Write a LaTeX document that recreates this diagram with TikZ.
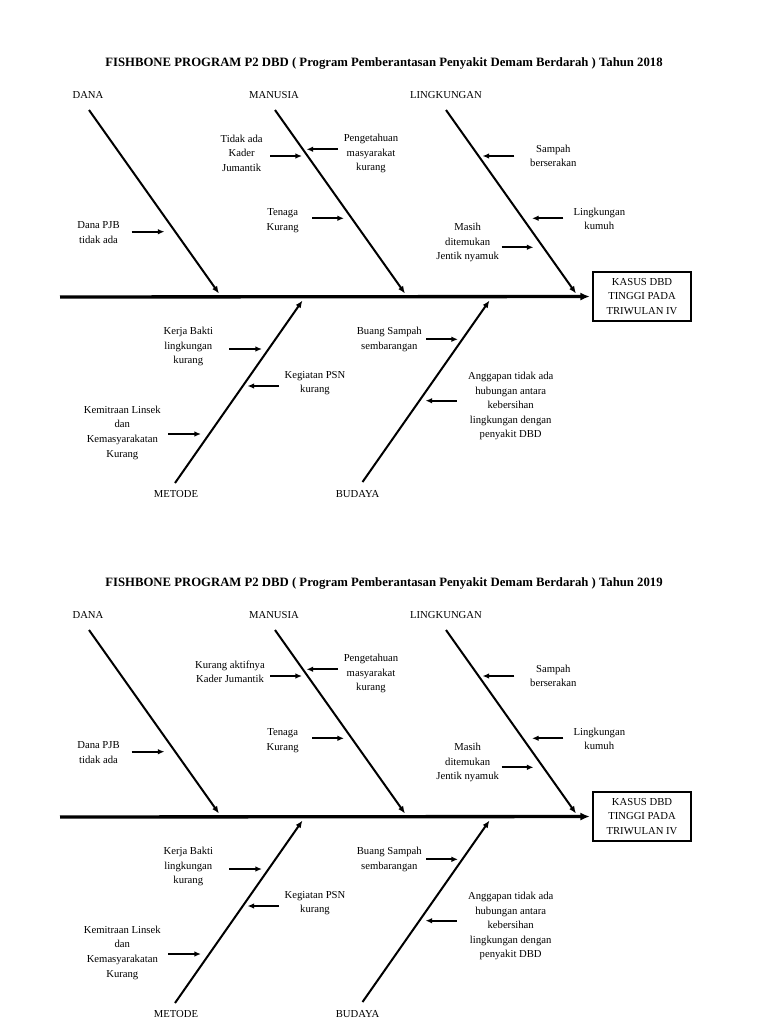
\documentclass[tikz,border=0pt]{standalone}
\usepackage{fontspec}
\setmainfont{Liberation Serif}
\usetikzlibrary{arrows.meta}
\tikzset{
  lbl/.style={font=\fontsize{8}{10.9}\selectfont, align=center, inner sep=0pt},
  cat/.style={font=\fontsize{8}{10}\selectfont, inner sep=0pt},
  ttl/.style={font=\bfseries\fontsize{9.55}{12}\selectfont, inner sep=0pt},
  bone/.style={line width=1.5pt, -{Latex[length=5.5pt,width=4.5pt]}},
  sub/.style={line width=1.3pt, -{Latex[length=5pt,width=4.2pt]}},
  spine/.style={line width=2.5pt, -{Latex[length=7pt,width=6pt]}, shorten >=2pt},
  effect/.style={draw, line width=0.8pt, minimum width=73.5pt, minimum height=36.75pt,
    align=center, font=\fontsize{8}{10.9}\selectfont, inner sep=0pt}
}
\newcommand\fishdiagram[4]{%
\begin{scope}[shift={(0,#1)}, name prefix=d#2-]
  \node[ttl] (title) at (384,63) {FISHBONE PROGRAM P2 DBD ( Program Pemberantasan Penyakit Demam Berdarah ) Tahun #2};
  % effect and spine
  \coordinate (tail) at (60,297);
  \node[effect] (effect) at (642,296.5) {KASUS DBD\\TINGGI PADA\\TRIWULAN IV};
  \draw[spine] (tail) -- (effect.west);
  % categories
  \node[cat] (dana) at (88,95) {DANA};
  \node[cat] (manusia) at (274,95) {MANUSIA};
  \node[cat] (lingk) at (446,95) {LINGKUNGAN};
  \node[cat] (metode) at (176,494.5) {METODE};
  \node[cat] (budaya) at (357.5,494.5) {BUDAYA};
  % bones
  \coordinate (dana-s) at (89,110);   \coordinate (dana-e) at (219,293.5);
  \coordinate (man-s) at (275,110);   \coordinate (man-e) at (405,293.5);
  \coordinate (lin-s) at (446,110);   \coordinate (lin-e) at (576,293.5);
  \coordinate (met-s) at (175,483);   \coordinate (met-e) at (302.5,300.5);
  \coordinate (bud-s) at (362.5,482); \coordinate (bud-e) at (489.5,300.5);
  \draw[bone] (dana-s) -- (dana-e);
  \draw[bone] (man-s) -- (man-e);
  \draw[bone] (lin-s) -- (lin-e);
  \draw[bone] (met-s) -- (met-e);
  \draw[bone] (bud-s) -- (bud-e);
  % causes: DANA
  \node[lbl] (c1) at (98.5,232.5) {Dana PJB\\tidak ada};
  \coordinate (c1s) at (131.5,231.7); \coordinate (c1e) at (164.5,231.7);
  \draw[sub] (c1s) -- (c1e);
  % MANUSIA
  \node[lbl] (c2) at #3 {#4};
  \coordinate (c2s) at (270,156); \coordinate (c2e) at (302,156);
  \draw[sub] (c2s) -- (c2e);
  \node[lbl] (c3) at (371,153.5) {Pengetahuan\\masyarakat\\kurang};
  \coordinate (c3s) at (338,149.3); \coordinate (c3e) at (306.5,149.3);
  \draw[sub] (c3s) -- (c3e);
  \node[lbl] (c4) at (282.7,220.8) {Tenaga\\Kurang};
  \coordinate (c4s) at (312.3,218.3); \coordinate (c4e) at (344,218.3);
  \draw[sub] (c4s) -- (c4e);
  % LINGKUNGAN
  \node[lbl] (c5) at (553.3,156) {Sampah\\berserakan};
  \coordinate (c5s) at (514.3,156); \coordinate (c5e) at (482.5,156);
  \draw[sub] (c5s) -- (c5e);
  \node[lbl] (c6) at (599.3,219) {Lingkungan\\kumuh};
  \coordinate (c6s) at (563.3,218.3); \coordinate (c6e) at (532,218.3);
  \draw[sub] (c6s) -- (c6e);
  \node[lbl] (c7) at (467.7,242.5) {Masih\\ditemukan\\Jentik nyamuk};
  \coordinate (c7s) at (501.7,247.3); \coordinate (c7e) at (533.5,247.3);
  \draw[sub] (c7s) -- (c7e);
  % METODE
  \node[lbl] (c8) at (188.3,346.5) {Kerja Bakti\\lingkungan\\kurang};
  \coordinate (c8s) at (229.3,349); \coordinate (c8e) at (262,349);
  \draw[sub] (c8s) -- (c8e);
  \node[lbl] (c9) at (315,383) {Kegiatan PSN\\kurang};
  \coordinate (c9s) at (279,386); \coordinate (c9e) at (247.5,386);
  \draw[sub] (c9s) -- (c9e);
  \node[lbl] (c10) at (122.3,432.7) {Kemitraan Linsek\\dan\\Kemasyarakatan\\Kurang};
  \coordinate (c10s) at (168.3,434); \coordinate (c10e) at (201,434);
  \draw[sub] (c10s) -- (c10e);
  % BUDAYA
  \node[lbl] (c11) at (389.3,339.5) {Buang Sampah\\sembarangan};
  \coordinate (c11s) at (426,339.3); \coordinate (c11e) at (458,339.3);
  \draw[sub] (c11s) -- (c11e);
  \node[lbl] (c12) at (510.7,406) {Anggapan tidak ada\\hubungan antara\\kebersihan\\lingkungan dengan\\penyakit DBD};
  \coordinate (c12s) at (456.7,400.7); \coordinate (c12e) at (425.5,400.7);
  \draw[sub] (c12s) -- (c12e);
\end{scope}}
\begin{document}
\begin{tikzpicture}[x=0.75pt, y=-0.75pt]
  \useasboundingbox (0,0) rectangle (768,1024);
  \fishdiagram{0}{2018}{(241.7,153.3)}{Tidak ada\\Kader\\Jumantik}
  \fishdiagram{520}{2019}{(230,151.8)}{Kurang aktifnya\\Kader Jumantik}
\end{tikzpicture}
\end{document}
